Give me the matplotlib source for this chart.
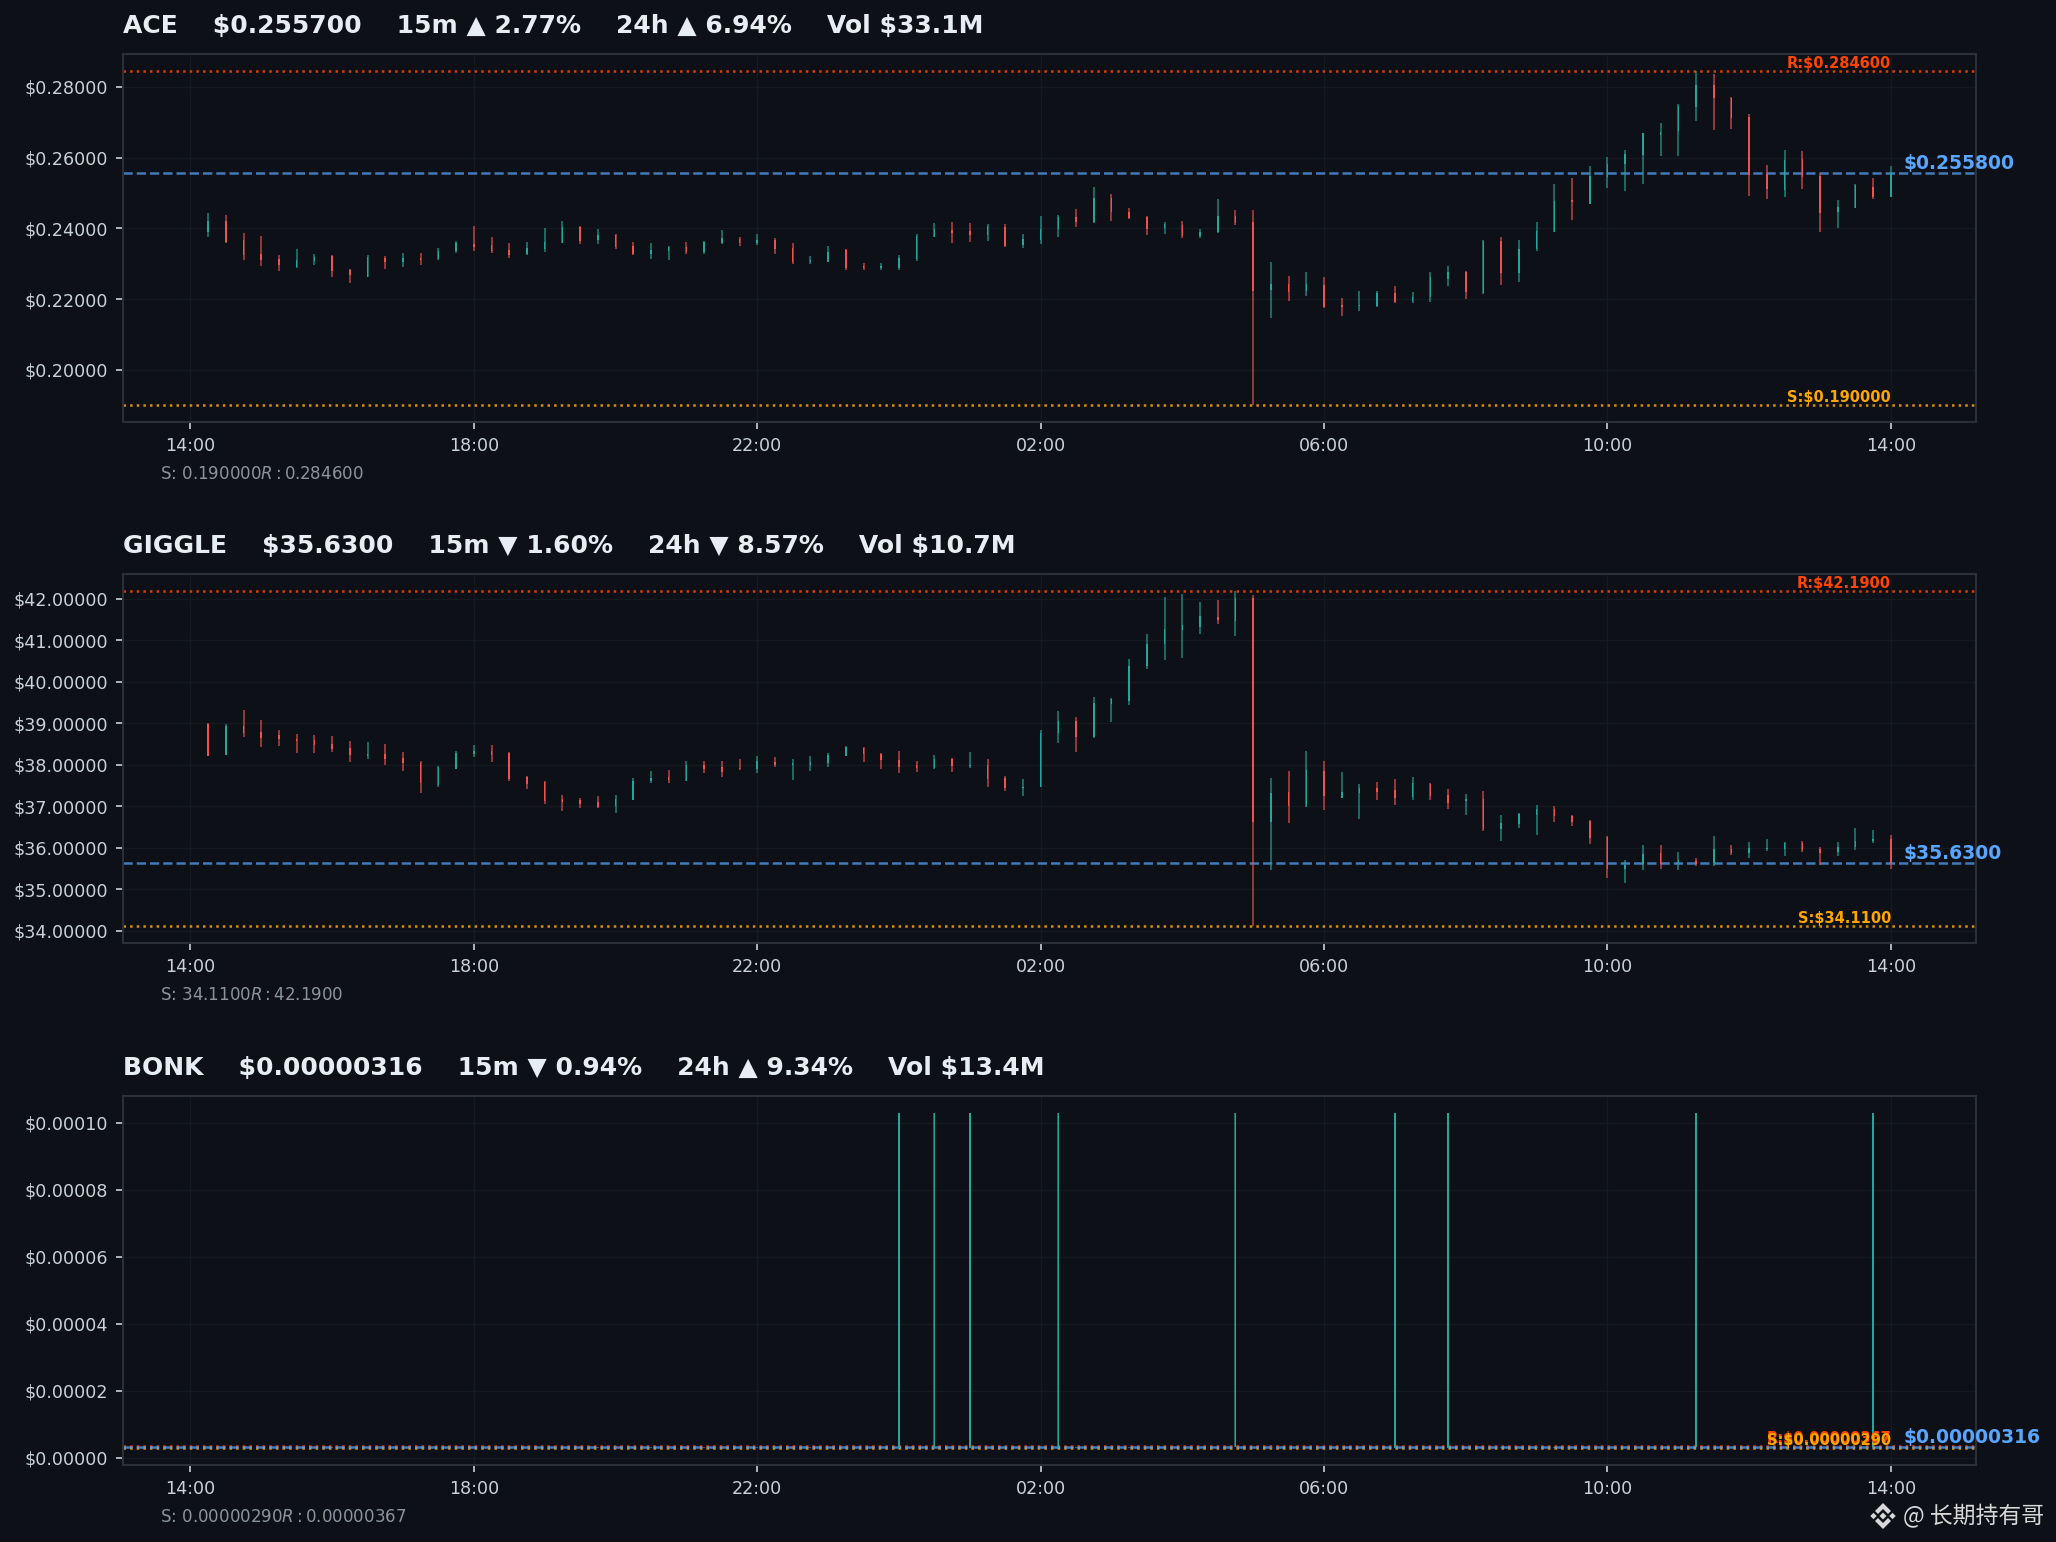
import matplotlib
matplotlib.use("Agg")
import matplotlib.pyplot as plt
import matplotlib.dates as mdates
import numpy as np
import pandas as pd
from matplotlib.ticker import FuncFormatter
from matplotlib.patches import Polygon

# ---------------- data ----------------
times = pd.date_range("2025-11-03 14:15", periods=96, freq="15min")

ace_open = [0.23897, 0.24197, 0.23662, 0.23268, 0.23127, 0.22920, 0.23080, 0.23221, 0.22817, 0.22629,
 0.23174, 0.23052, 0.23155, 0.23127, 0.23361, 0.23549, 0.23521, 0.23390, 0.23268, 0.23408,
 0.23587, 0.24038, 0.23662, 0.23803, 0.23493, 0.23268, 0.23352, 0.23465, 0.23333, 0.23577,
 0.23690, 0.23587, 0.23662, 0.23437, 0.23052, 0.23052, 0.23380, 0.22939, 0.22883, 0.22883,
 0.23127, 0.23746, 0.23944, 0.23915, 0.23803, 0.24028, 0.23531, 0.23662, 0.23972, 0.24310,
 0.24169, 0.24873, 0.24479, 0.24310, 0.24000, 0.24085, 0.23775, 0.23887, 0.24366, 0.24169,
 0.22263, 0.22432, 0.22235, 0.22404, 0.21840, 0.21812, 0.21812, 0.22178, 0.21953, 0.22066,
 0.22563, 0.22761, 0.22178, 0.23634, 0.22732, 0.23408, 0.23897, 0.24817, 0.24685, 0.25446,
 0.25812, 0.26085, 0.26648, 0.26742, 0.27446, 0.28056, 0.27690, 0.27155, 0.25531, 0.25080,
 0.25972, 0.25474, 0.24460, 0.24573, 0.25164, 0.24883]
ace_high = [0.24451, 0.24394, 0.23859, 0.23775, 0.23239, 0.23408, 0.23268, 0.23239, 0.22845, 0.23239,
 0.23211, 0.23296, 0.23296, 0.23437, 0.23634, 0.24056, 0.23746, 0.23577, 0.23606, 0.24000,
 0.24197, 0.24056, 0.23972, 0.23831, 0.23606, 0.23577, 0.23493, 0.23606, 0.23634, 0.23944,
 0.23746, 0.23831, 0.23718, 0.23577, 0.23211, 0.23493, 0.23408, 0.23014, 0.23014, 0.23239,
 0.23831, 0.24141, 0.24169, 0.24141, 0.24113, 0.24113, 0.23831, 0.24338, 0.24394, 0.24563,
 0.25183, 0.24986, 0.24592, 0.24338, 0.24169, 0.24197, 0.23972, 0.24845, 0.24535, 0.24535,
 0.23042, 0.22648, 0.22761, 0.22620, 0.22028, 0.22225, 0.22225, 0.22367, 0.22197, 0.22761,
 0.22930, 0.22789, 0.23662, 0.23746, 0.23662, 0.24169, 0.25268, 0.25437, 0.25775, 0.26028,
 0.26225, 0.26704, 0.26986, 0.27521, 0.28460, 0.28366, 0.27718, 0.27240, 0.25803, 0.26225,
 0.26197, 0.25559, 0.24817, 0.25268, 0.25437, 0.25775]
ace_low = [0.23756, 0.23587, 0.23108, 0.22939, 0.22798, 0.22883, 0.22967, 0.22629, 0.22460, 0.22629,
 0.22854, 0.22911, 0.22967, 0.23099, 0.23305, 0.23352, 0.23305, 0.23164, 0.23249, 0.23333,
 0.23587, 0.23559, 0.23559, 0.23418, 0.23249, 0.23136, 0.23108, 0.23277, 0.23277, 0.23559,
 0.23502, 0.23531, 0.23277, 0.22995, 0.22995, 0.23052, 0.22826, 0.22826, 0.22826, 0.22826,
 0.23080, 0.23746, 0.23587, 0.23615, 0.23643, 0.23465, 0.23446, 0.23559, 0.23756, 0.24028,
 0.24141, 0.24197, 0.24254, 0.23803, 0.23831, 0.23718, 0.23718, 0.23859, 0.24085, 0.19000,
 0.21465, 0.21944, 0.22085, 0.21756, 0.21530, 0.21671, 0.21784, 0.21897, 0.21897, 0.21925,
 0.22367, 0.22009, 0.22150, 0.22395, 0.22488, 0.23361, 0.23897, 0.24235, 0.24685, 0.25136,
 0.25052, 0.25249, 0.26038, 0.26038, 0.27052, 0.26798, 0.26826, 0.24911, 0.24826, 0.24883,
 0.25108, 0.23897, 0.24009, 0.24573, 0.24826, 0.24883]
ace_close = [0.24197, 0.23606, 0.23239, 0.23108, 0.22958, 0.23108, 0.23192, 0.22798, 0.22685, 0.23192,
 0.23042, 0.23174, 0.23099, 0.23352, 0.23577, 0.23465, 0.23352, 0.23239, 0.23437, 0.23606,
 0.24028, 0.23634, 0.23803, 0.23465, 0.23268, 0.23380, 0.23484, 0.23333, 0.23606, 0.23718,
 0.23577, 0.23662, 0.23408, 0.23052, 0.23108, 0.23324, 0.22883, 0.22883, 0.22939, 0.23164,
 0.23775, 0.23972, 0.23859, 0.23803, 0.24056, 0.23493, 0.23690, 0.23972, 0.24310, 0.24169,
 0.24873, 0.24479, 0.24282, 0.23972, 0.24113, 0.23775, 0.23887, 0.24366, 0.24141, 0.22235,
 0.22432, 0.22207, 0.22432, 0.21784, 0.21784, 0.21840, 0.22178, 0.21925, 0.22066, 0.22620,
 0.22761, 0.22197, 0.23634, 0.22732, 0.23408, 0.23915, 0.24789, 0.24742, 0.25474, 0.25831,
 0.26113, 0.26686, 0.26732, 0.27465, 0.28056, 0.27700, 0.27127, 0.25502, 0.25108, 0.25944,
 0.25446, 0.24432, 0.24620, 0.25221, 0.24883, 0.25580]

giggle_open = [38.974, 38.241, 38.926, 38.781, 38.708, 38.628, 38.588, 38.507, 38.410, 38.217,
 38.266, 38.169, 38.048, 37.517, 37.903, 38.266, 38.338, 38.290, 37.710, 37.590,
 37.163, 37.155, 37.107, 37.010, 37.155, 37.614, 37.710, 37.614, 38.000, 37.952,
 37.928, 37.903, 38.072, 38.000, 38.000, 38.048, 38.217, 38.410, 38.266, 38.121,
 37.984, 37.928, 38.145, 37.976, 38.000, 37.686, 37.445, 37.469, 38.773, 39.062,
 38.676, 39.473, 39.545, 40.366, 40.897, 41.235, 41.308, 41.549, 41.453, 42.008,
 36.624, 37.348, 37.010, 37.855, 37.203, 37.324, 37.445, 37.396, 37.227, 37.541,
 37.276, 37.131, 37.179, 36.455, 36.575, 36.793, 36.938, 36.769, 36.648, 36.262,
 35.489, 35.610, 35.875, 35.634, 35.682, 35.634, 35.972, 35.875, 35.972, 35.972,
 36.117, 35.972, 35.899, 36.020, 36.165, 36.213]
giggle_high = [39.014, 38.990, 39.328, 39.087, 38.845, 38.749, 38.724, 38.700, 38.579, 38.555,
 38.507, 38.314, 38.097, 37.976, 38.338, 38.483, 38.483, 38.314, 37.734, 37.614,
 37.276, 37.203, 37.252, 37.276, 37.686, 37.855, 37.879, 38.097, 38.097, 38.097,
 38.145, 38.217, 38.193, 38.145, 38.217, 38.290, 38.459, 38.435, 38.290, 38.338,
 38.097, 38.241, 38.169, 38.314, 38.145, 37.734, 37.662, 38.845, 39.304, 39.159,
 39.642, 39.618, 40.535, 41.139, 42.032, 42.105, 41.911, 41.960, 42.190, 42.080,
 37.686, 37.855, 38.338, 38.097, 37.831, 37.541, 37.590, 37.662, 37.710, 37.565,
 37.421, 37.300, 37.372, 36.793, 36.841, 37.034, 37.010, 36.793, 36.672, 36.286,
 35.706, 36.068, 36.068, 35.899, 35.755, 36.286, 36.068, 36.141, 36.213, 36.141,
 36.165, 36.020, 36.141, 36.479, 36.431, 36.310]
giggle_low = [38.217, 38.241, 38.676, 38.435, 38.459, 38.290, 38.290, 38.314, 38.072, 38.145,
 38.000, 37.855, 37.324, 37.469, 37.903, 38.193, 38.072, 37.614, 37.421, 37.058,
 36.889, 36.962, 36.962, 36.841, 37.155, 37.565, 37.565, 37.614, 37.807, 37.710,
 37.879, 37.807, 37.952, 37.638, 37.855, 37.952, 38.217, 38.072, 37.903, 37.807,
 37.831, 37.903, 37.831, 37.928, 37.469, 37.372, 37.252, 37.469, 38.531, 38.314,
 38.652, 39.038, 39.449, 40.294, 40.511, 40.559, 41.139, 41.380, 41.091, 34.110,
 35.465, 36.600, 36.986, 36.913, 37.203, 36.696, 37.155, 37.034, 37.155, 37.155,
 36.938, 36.793, 36.406, 36.165, 36.479, 36.310, 36.624, 36.527, 36.093, 35.272,
 35.151, 35.465, 35.489, 35.465, 35.561, 35.561, 35.827, 35.755, 35.924, 35.803,
 35.899, 35.586, 35.803, 35.948, 36.117, 35.489]
giggle_close = [38.217, 38.926, 38.773, 38.652, 38.628, 38.563, 38.483, 38.386, 38.241, 38.266,
 38.145, 38.048, 37.565, 37.952, 38.290, 38.338, 38.241, 37.662, 37.541, 37.131,
 37.107, 37.058, 36.970, 37.179, 37.614, 37.686, 37.638, 38.000, 37.903, 37.831,
 37.903, 38.097, 38.000, 38.048, 38.072, 38.241, 38.435, 38.266, 38.121, 37.952,
 37.928, 38.145, 37.976, 38.000, 37.662, 37.445, 37.469, 38.773, 39.062, 38.676,
 39.497, 39.594, 40.390, 40.897, 41.260, 41.356, 41.573, 41.477, 42.008, 36.624,
 37.324, 37.010, 37.879, 37.252, 37.348, 37.445, 37.348, 37.203, 37.565, 37.252,
 37.082, 37.179, 36.455, 36.600, 36.817, 36.938, 36.769, 36.624, 36.237, 35.489,
 35.586, 35.851, 35.610, 35.706, 35.610, 35.972, 35.875, 35.996, 35.996, 36.117,
 35.948, 35.875, 36.020, 36.165, 36.213, 35.630]

# BONK values in units of 1e-8 USD
bonk_unit = 1e-8
bonk_open = [316, 318, 317, 319, 316, 314, 315, 313, 312, 314,
 315, 316, 317, 315, 314, 316, 318, 319, 317, 316,
 315, 314, 313, 312, 311, 313, 314, 312, 311, 310,
 309, 310, 311, 312, 310, 309, 308, 307, 306, 305,
 305, 305, 305, 306, 306, 307, 308, 309, 310, 310,
 311, 312, 313, 315, 317, 319, 321, 323, 322, 322,
 320, 300, 302, 304, 303, 301, 299, 300, 300, 302,
 303, 303, 305, 307, 309, 311, 313, 315, 318, 320,
 322, 324, 326, 328, 330, 330, 332, 334, 330, 327,
 325, 322, 320, 318, 317, 317]
bonk_high = [320, 320, 321, 321, 318, 317, 317, 315, 316, 317,
 318, 319, 319, 317, 318, 320, 321, 321, 319, 318,
 317, 316, 315, 314, 315, 316, 316, 314, 313, 312,
 312, 313, 314, 314, 312, 311, 310, 309, 308, 10300,
 307, 10300, 308, 10300, 309, 310, 311, 312, 10300, 313,
 314, 316, 318, 320, 322, 324, 326, 325, 10300, 324,
 322, 304, 306, 306, 305, 303, 302, 10300, 305, 306,
 10300, 308, 310, 312, 314, 316, 319, 321, 323, 325,
 327, 329, 331, 333, 10300, 335, 337, 336, 332, 329,
 327, 324, 322, 320, 10300, 319]
bonk_low = [314, 315, 315, 314, 312, 312, 311, 310, 310, 312,
 313, 314, 313, 312, 312, 314, 316, 315, 314, 313,
 312, 311, 310, 309, 309, 311, 310, 309, 308, 307,
 307, 308, 309, 308, 307, 306, 305, 304, 303, 303,
 303, 303, 303, 304, 304, 305, 306, 307, 308, 308,
 309, 310, 311, 313, 315, 317, 319, 320, 320, 318,
 290, 298, 300, 301, 299, 297, 297, 298, 298, 300,
 301, 301, 303, 305, 307, 309, 311, 313, 316, 318,
 320, 322, 324, 326, 328, 328, 330, 328, 325, 323,
 320, 318, 316, 315, 315, 314]
bonk_close = [318, 317, 319, 316, 314, 315, 313, 312, 314, 315,
 316, 317, 315, 314, 316, 318, 319, 317, 316, 315,
 314, 313, 312, 311, 313, 314, 312, 311, 310, 309,
 310, 311, 312, 310, 309, 308, 307, 306, 305, 10300,
 305, 10300, 306, 10300, 307, 308, 309, 310, 10300, 311,
 312, 313, 315, 317, 319, 321, 323, 322, 10300, 320,
 300, 302, 304, 303, 301, 299, 300, 10300, 302, 303,
 10300, 305, 307, 309, 311, 313, 315, 318, 320, 322,
 324, 326, 328, 330, 10300, 332, 334, 330, 327, 325,
 322, 320, 318, 317, 10300, 316]

titles = [
    "ACE    \\$0.255700    15m ▲ 2.77%    24h ▲ 6.94%    Vol \\$33.1M",
    "GIGGLE    \\$35.6300    15m ▼ 1.60%    24h ▼ 8.57%    Vol \\$10.7M",
    "BONK    \\$0.00000316    15m ▼ 0.94%    24h ▲ 9.34%    Vol \\$13.4M",
]
supports = [0.190000, 34.1100, 0.00000290]
resistances = [0.284600, 42.1900, 0.00000367]
currents = [0.255800, 35.6300, 0.00000316]
decimals = [6, 4, 8]

# ---------------- style ----------------
BG = "#0d1117"
UP = "#26a69a"
DOWN = "#ef5350"
TXT = "#c9d1d9"

W, H, DPI = 2056, 1542, 150
fig = plt.figure(figsize=(W / DPI, H / DPI), dpi=DPI, facecolor=BG)

panel_px = [(54, 422), (574, 943), (1096, 1465)]
left_px, right_px = 123, 1976

ohlc = [
    (ace_open, ace_high, ace_low, ace_close, 1.0),
    (giggle_open, giggle_high, giggle_low, giggle_close, 1.0),
    (bonk_open, bonk_high, bonk_low, bonk_close, bonk_unit),
]

x = mdates.date2num(times)

for i, (top, bot) in enumerate(panel_px):
    ax = fig.add_axes([left_px / W, 1 - bot / H, (right_px - left_px) / W, (bot - top) / H])
    ax.set_facecolor(BG)
    o, h, l, c, unit = ohlc[i]
    o = np.array(o) * unit
    h = np.array(h) * unit
    l = np.array(l) * unit
    c = np.array(c) * unit
    up = c >= o
    cols = np.where(up, UP, DOWN)
    ax.vlines(x, l, h, colors=cols, linewidth=0.8, alpha=0.7, zorder=2)
    ax.bar(x, np.abs(c - o), bottom=np.minimum(o, c), width=0.001, color=cols,
           linewidth=0, zorder=3)

    S, R, cur, d = supports[i], resistances[i], currents[i], decimals[i]
    ax.axhline(R, color="#ff4500", linestyle=":", linewidth=1.2, alpha=0.85, zorder=1)
    ax.axhline(S, color="#ffa500", linestyle=":", linewidth=1.2, alpha=0.85, zorder=1)
    ax.axhline(cur, color="#58a6ff", linestyle="--", linewidth=1.2, alpha=0.7, zorder=1)

    ax.text(x[-1], R, f"R:\\${R:.{d}f}", color="#ff4500", fontsize=7, fontweight="bold",
            ha="right", va="bottom", zorder=5)
    ax.text(x[-1], S, f"S:\\${S:.{d}f}", color="#ffa500", fontsize=7, fontweight="bold",
            ha="right", va="bottom", zorder=5)
    ax.annotate(f"\\${cur:.{d}f}", xy=(x[-1], cur), xytext=(6, 0), textcoords="offset points",
                color="#58a6ff", fontsize=9, fontweight="bold", ha="left", va="bottom",
                annotation_clip=False, zorder=5)

    ax.set_title(titles[i], loc="left", color="#e6edf3", fontsize=12, fontweight="bold", pad=10)
    ax.text(0.02, -0.14, f"S: ${S:.{d}f} R: ${R:.{d}f}", transform=ax.transAxes,
            color="#8b949e", fontsize=8, ha="left", va="center")

    ax.xaxis.set_major_locator(mdates.HourLocator(byhour=[2, 6, 10, 14, 18, 22]))
    ax.xaxis.set_major_formatter(mdates.DateFormatter("%H:%M"))
    ax.yaxis.set_major_formatter(FuncFormatter(lambda v, p: f"${v:.5f}"))
    ax.tick_params(colors=TXT, labelsize=8.4, labelcolor=TXT)
    ax.grid(True, color="#161b22", linewidth=0.6, alpha=0.9, zorder=0)
    ax.set_axisbelow(True)
    for sp in ax.spines.values():
        sp.set_color("#2b3038")
        sp.set_linewidth(1.0)

# ---------------- watermark ----------------
def px_poly(pts, **kw):
    pts = [(px / W, 1 - py / H) for px, py in pts]
    fig.add_artist(Polygon(pts, closed=True, transform=fig.transFigure, **kw))

cx, cy = 1883, 1516
wm = "#d8d8d8"
def diamond(x0, y0, r):
    px_poly([(x0 - r, y0), (x0, y0 - r), (x0 + r, y0), (x0, y0 + r)], color=wm, lw=0)

diamond(cx, cy, 3.5)
diamond(cx - 9.5, cy, 3.2)
diamond(cx + 9.5, cy, 3.2)
px_poly([(cx, cy - 13), (cx + 8, cy - 5), (cx + 5, cy - 2), (cx, cy - 7), (cx - 5, cy - 2), (cx - 8, cy - 5)],
        color=wm, lw=0)
px_poly([(cx, cy + 13), (cx + 8, cy + 5), (cx + 5, cy + 2), (cx, cy + 7), (cx - 5, cy + 2), (cx - 8, cy + 5)],
        color=wm, lw=0)
fig.text(1903 / W, 1 - 1516 / H, "@ 长期持有哥", fontsize=11, color=wm,
         family=["Noto Sans CJK SC", "DejaVu Sans"], ha="left", va="center")

fig.savefig("out.png", dpi=DPI, facecolor=BG)
